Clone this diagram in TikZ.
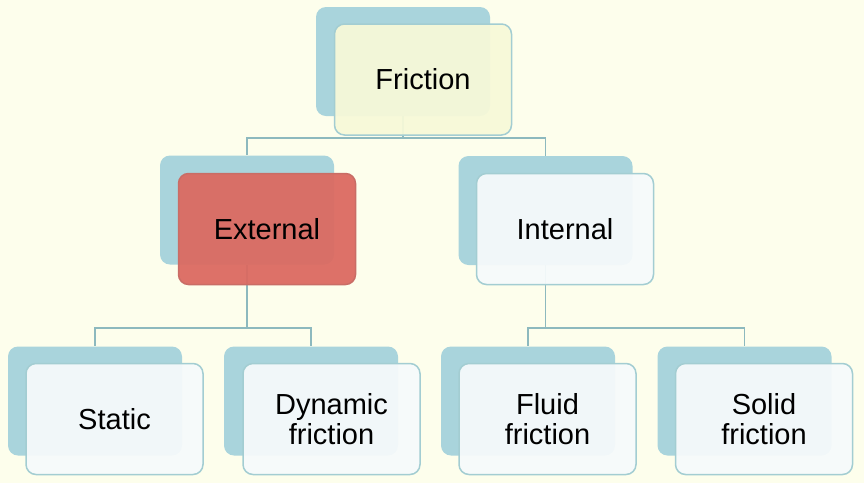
\documentclass[tikz,border=0pt]{standalone}
\usepackage{fontspec}
\setmainfont{Liberation Sans}
\usepackage{tikz}

\definecolor{paper}{HTML}{FDFEEC}
\definecolor{shade}{HTML}{A9D4DC}
\definecolor{rim}{HTML}{A3CDD2}
\definecolor{wire}{HTML}{8DB9BE}
\definecolor{card}{HTML}{F6FAFB}
\definecolor{top}{HTML}{F7F9D8}
\definecolor{hot}{HTML}{DB6960}

\begin{document}
\begin{tikzpicture}[x=1pt,y=-1pt,
  back/.style={rectangle,rounded corners=10pt,fill=shade,minimum width=174pt,minimum height=109pt,inner sep=0pt},
  front/.style={rectangle,rounded corners=10pt,draw=rim,line width=1.5pt,fill=card,fill opacity=0.94,text opacity=1,
    minimum width=177pt,minimum height=111pt,inner sep=0pt,align=center,font=\fontsize{29}{30}\selectfont},
  link/.style={draw=wire,line width=1.4pt}]
\useasboundingbox[fill=paper] (0,0) rectangle (864,483);

\node[back] (fricb) at (403,61.5) {};
\node[back] (extb) at (247,210) {};
\node[back] (intb) at (545.5,210.5) {};
\node[back] (statb) at (95,401) {};
\node[back] (dynb) at (311,401) {};
\node[back] (flub) at (528,401) {};
\node[back] (solb) at (744.5,401) {};

\coordinate (j1) at (403,138);
\coordinate (j2) at (247,328);
\coordinate (j3) at (545.5,328);

\draw[link] (fricb.south)--(j1)-|(extb.north);
\draw[link] (j1)-|(intb.north);
\draw[link] (extb.south)--(j2)-|(statb.north);
\draw[link] (j2)-|(dynb.north);
\draw[link] (intb.south)--(j3)-|(flub.north);
\draw[link] (j3)-|(solb.north);

\node[front,fill=top] (fric) at (423,79.5) {Friction};
\node[front,fill=hot,draw=hot!80!gray] (ext) at (267,229) {External};
\node[front] (int) at (565,229) {Internal};
\node[front] (stat) at (114.5,419) {Static};
\node[front] (dyn) at (331.5,419) {Dynamic\\friction};
\node[front] (flu) at (547.5,419) {Fluid\\friction};
\node[front] (sol) at (764,419) {Solid\\friction};
\end{tikzpicture}
\end{document}
